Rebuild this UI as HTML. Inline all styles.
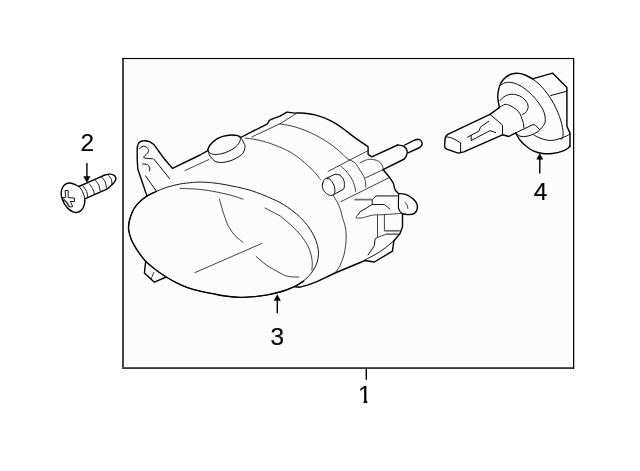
<!DOCTYPE html>
<html>
<head>
<meta charset="utf-8">
<title>Fog Lamp Diagram</title>
<style>
html,body{margin:0;padding:0;background:#fff;}
body{width:640px;height:471px;overflow:hidden;}
svg{display:block;}
text{font-family:"Liberation Sans",Arial,Helvetica,sans-serif;font-size:24.4px;fill:#000;stroke:#000;stroke-width:0.15px;}
svg{opacity:0.999;will-change:transform;}

.k{fill:none;stroke:#000;stroke-width:1.4;stroke-linecap:round;stroke-linejoin:round;}
.kf{fill:#fff;stroke:#000;stroke-width:1.4;stroke-linecap:round;stroke-linejoin:round;}
.m{fill:none;stroke:#000;stroke-width:0.95;stroke-linecap:round;stroke-linejoin:round;}
.mf{fill:#fff;stroke:#000;stroke-width:0.95;stroke-linecap:round;stroke-linejoin:round;}
.t{fill:none;stroke:#111;stroke-width:0.8;stroke-linecap:round;stroke-linejoin:round;}
.t2{fill:none;stroke:#000;stroke-width:0.9;stroke-linecap:round;stroke-linejoin:round;}
.m2{fill:none;stroke:#000;stroke-width:1.15;stroke-linecap:round;stroke-linejoin:round;}
.a{fill:none;stroke:#000;stroke-width:1.4;}
.g{fill:none;stroke:#6e6e6e;stroke-width:1.7;stroke-linecap:butt;}
</style>
</head>
<body>
<svg width="640" height="471" viewBox="0 0 640 471">
<rect x="0" y="0" width="640" height="471" fill="#fff"/>
<!-- frame -->
<rect x="124" y="59" width="449" height="308" fill="#fcfcfc"/>
<rect x="122" y="57" width="452" height="1" fill="#f0f0f0"/>
<rect x="124" y="59" width="449" height="1" fill="#e4e4e4"/>
<rect x="574" y="58" width="1" height="311" fill="#b8b8b8"/>
<rect x="122" y="58" width="2" height="311" fill="#464646"/>
<rect x="122" y="367" width="452" height="1" fill="#585858"/>
<rect x="122" y="368" width="452" height="1" fill="#3a3a3a"/>
<rect x="122" y="58" width="452" height="1" fill="#050505"/>
<rect x="573" y="58" width="1" height="311" fill="#050505"/>
<!-- labels -->
<text x="80.5" y="151">2</text>
<text x="270.5" y="345">3</text>
<text x="533.7" y="199.7">4</text>
<clipPath id="c1"><path d="M350 380H380V400.3H367.3V405H363.6V400.3H350Z"/></clipPath>
<text x="358" y="402.7" clip-path="url(#c1)">1</text>
<!-- leader lines / arrows -->
<path class="a" d="M86.9 163V178"/>
<path d="M86.9 182.8L83.3 176.2H90.5Z" fill="#000"/>
<path class="a" d="M277.3 313.2V299"/>
<path d="M277.3 294.2L273.8 300.8H280.8Z" fill="#000"/>
<path class="a" d="M539.8 173.5V158"/>
<path d="M539.8 153.3L536.3 159.4H543.3Z" fill="#000"/>
<path class="a" d="M366.3 368V379.8"/>
<!-- 10_screw -->
<g>
<path class="k" d="M78.9 186.5L96.0 178.9L100.0 177.1L100.0 177.1C100.8 176.8 103.3 175.5 105.0 175.0C106.7 174.5 108.5 174.0 110.0 174.1C111.5 174.2 113.2 174.7 114.2 175.4C115.2 176.1 115.8 177.4 115.9 178.5C116.0 179.6 115.4 180.7 114.6 181.9C113.8 183.1 112.4 184.5 111.2 185.6C110.1 186.7 108.1 188.2 107.5 188.8L107.5 188.8L96.0 193.8L85.0 198.9"/>
<path class="t2" d="M83.4 186.5C83.9 187.3 85.9 189.7 86.6 191.5C87.3 193.3 87.6 196.3 87.8 197.3"/>
<path class="t2" d="M89.3 184.0C89.8 184.8 91.8 187.0 92.6 188.6C93.4 190.2 93.9 192.8 94.2 193.6"/>
<path class="t2" d="M95.6 180.6C96.1 181.4 98.0 183.5 98.8 185.2C99.5 186.9 99.9 189.7 100.1 190.6"/>
<path class="t2" d="M101.9 177.5C102.5 178.2 104.4 180.2 105.2 182.0C106.0 183.8 106.3 187.1 106.5 188.1"/>
<path class="t2" d="M108.5 175.6C109.0 176.2 110.8 178.0 111.4 179.4C112.0 180.8 111.8 183.0 111.9 183.8"/>
<path class="k" d="M84.8 200.5C84.7 201.2 84.6 203.4 84.3 204.6C84.0 205.8 83.6 206.8 83.0 207.9C82.4 208.9 81.6 210.2 80.6 210.9C79.6 211.7 78.2 212.2 77.0 212.4C75.8 212.6 74.6 212.4 73.2 211.9C71.8 211.3 70.1 210.3 68.7 209.1C67.3 207.9 66.0 206.3 64.9 204.7C63.9 203.1 63.0 201.2 62.4 199.6C61.8 198.0 61.5 196.4 61.3 195.1C61.1 193.8 61.1 192.8 61.3 191.5C61.5 190.2 61.8 188.7 62.5 187.5C63.2 186.3 64.5 184.9 65.6 184.2C66.8 183.4 68.0 183.0 69.4 183.0C70.8 183.0 72.2 183.4 73.8 184.0C75.4 184.6 78.0 186.1 78.9 186.5"/>
<path class="m" d="M78.9 186.5C79.3 187.0 80.8 188.5 81.5 189.7C82.2 190.9 82.9 192.5 83.4 193.8C83.9 195.1 84.4 196.5 84.6 197.6C84.8 198.7 84.8 200.0 84.8 200.5"/>
<path class="t2" d="M65.4 190.5L68.2 190.5L68.2 197.7L74.5 198.0L74.5 201.5L70.3 201.5L72.7 206.7L69.7 206.9L66.5 201.5L63.0 200.3L62.7 197.6L65.4 197.6Z"/>
<path class="t" d="M64.0 199.0L69.0 207.0"/>
</g>
<!-- 30_lamp -->
<g>
<path class="k" d="M146.9 195.9L137.8 169.0L137.2 159.0L137.2 147.2L137.2 147.2C137.6 146.5 138.0 143.7 139.1 142.6C140.2 141.5 142.0 140.9 143.8 140.8C145.5 140.6 147.7 141.0 149.4 141.6C151.0 142.3 153.0 144.1 153.8 144.6L153.8 144.4L164.4 159.0L172.5 168.4L200.0 155.0L207.8 150.6"/>
<path class="m" d="M139.4 148.8C140.0 148.3 141.9 146.5 143.1 146.2C144.4 146.0 146.0 146.8 146.9 147.5C147.8 148.2 148.5 149.6 148.5 150.6C148.5 151.7 147.7 152.7 146.9 153.8C146.1 154.8 144.1 156.1 143.8 156.9C143.4 157.6 143.5 157.8 145.0 158.1C146.5 158.4 151.2 158.6 152.5 158.8"/>
<path class="m" d="M142.5 164.0C143.3 164.1 146.3 164.0 147.5 164.6C148.7 165.2 149.4 166.7 149.8 167.8C150.1 168.8 149.4 170.4 149.4 170.9"/>
<path class="m" d="M145.6 175.9L156.2 190.9"/>
<path class="m" d="M153.8 159.0L169.4 178.4"/>
<path class="t" d="M185.0 170.5L208.8 159.6"/>
<path class="k" d="M207.8 150.0C208.1 149.2 208.6 146.8 210.0 145.0C211.4 143.2 214.0 140.8 216.2 139.4C218.5 137.9 221.2 137.0 223.8 136.2C226.2 135.5 229.0 135.1 231.2 135.0C233.5 134.9 235.9 135.2 237.5 135.6C239.1 136.0 240.1 137.2 240.6 137.5"/>
<path class="m" d="M240.6 137.5C240.4 138.3 240.3 140.8 239.4 142.5C238.4 144.2 236.8 146.0 235.0 147.5C233.2 149.0 231.0 150.2 228.8 151.2C226.5 152.3 223.8 153.2 221.2 153.8C218.8 154.3 215.7 154.6 213.8 154.4C211.8 154.2 210.4 153.2 209.4 152.5C208.4 151.8 208.0 150.4 207.8 150.0"/>
<path class="m" d="M240.6 137.5C241.1 138.3 242.8 140.7 243.5 142.2C244.2 143.8 245.2 145.0 245.0 146.9C244.8 148.8 244.2 151.8 242.5 153.8C240.8 155.7 237.1 157.6 235.0 158.8C232.9 159.9 232.1 160.2 230.0 160.9C227.9 161.5 224.8 162.4 222.5 162.5C220.2 162.6 217.9 162.3 216.2 161.8C214.6 161.2 213.6 160.1 212.5 159.0C211.4 157.9 210.2 156.5 209.4 155.0C208.6 153.5 208.0 150.8 207.8 150.0"/>
<path class="k" d="M240.6 137.5L267.5 123.8L267.5 123.8C267.8 123.2 268.5 121.5 269.4 120.6C270.2 119.8 272.0 119.1 272.5 118.8L272.5 118.8L280.0 116.2L286.9 112.1L295.0 113.1L295.0 113.1C295.8 113.1 298.3 113.0 300.0 113.0C301.7 113.0 302.5 112.9 305.0 113.2C307.5 113.6 311.7 114.1 315.0 114.9C318.3 115.7 321.7 116.8 325.0 118.1C328.3 119.5 331.7 121.1 335.0 123.1C338.3 125.1 341.9 127.7 345.0 130.0C348.1 132.3 351.2 135.0 353.8 136.9C356.2 138.8 357.6 139.6 360.0 141.2C362.4 142.9 366.8 145.9 368.1 146.9L368.1 146.9L368.1 154.4L371.9 156.9L397.5 145.0"/>
<path class="t" d="M251.9 136.9L280.0 123.8L295.6 114.0"/>
<path class="t" d="M280.0 124.0C281.7 124.3 286.7 124.9 290.0 125.6C293.3 126.4 296.7 127.4 300.0 128.5C303.3 129.6 306.7 131.0 310.0 132.5C313.3 134.0 316.7 135.6 320.0 137.5C323.3 139.4 326.9 141.6 330.0 143.8C333.1 145.9 335.8 148.1 338.8 150.6C341.7 153.1 344.8 156.7 347.5 158.8C350.2 160.8 352.9 160.8 355.0 162.8C357.1 164.7 358.5 168.0 360.0 170.2C361.5 172.5 362.8 174.4 363.8 176.5C364.7 178.6 365.3 181.0 365.6 182.8C365.9 184.5 365.6 186.4 365.6 187.1"/>
<path class="t" d="M341.2 166.5C342.3 167.5 345.6 170.5 347.5 172.8C349.4 175.0 351.2 177.8 352.5 180.2C353.8 182.8 354.5 185.9 355.0 187.8C355.5 189.6 355.5 190.9 355.6 191.5"/>
<path class="t" d="M245.0 138.1C246.7 138.3 251.2 138.6 255.0 139.4C258.8 140.1 263.3 141.2 267.5 142.5C271.7 143.8 276.7 145.9 280.0 147.2C283.3 148.6 285.2 149.4 287.5 150.6C289.8 151.8 291.7 153.0 293.8 154.4C295.8 155.7 297.5 156.7 300.0 158.8C302.5 160.8 306.0 164.0 308.8 166.5C311.5 169.0 314.3 171.9 316.2 174.0C318.2 176.1 319.6 178.4 320.2 179.2"/>
<path class="t" d="M328.1 171.5L349.4 160.2L368.1 150.6"/>
<path class="k" d="M397.5 145.0C398.5 145.2 402.1 145.2 403.8 146.2C405.4 147.3 406.8 149.6 407.2 151.2C407.7 152.9 406.7 155.0 406.2 156.2C405.8 157.5 404.7 158.3 404.4 158.8L404.4 159.0L383.1 169.6"/>
<path class="k" d="M404.8 145.0L415.0 139.8L415.0 140.0C415.5 139.9 416.8 139.2 417.8 139.2C418.7 139.3 419.9 139.6 420.6 140.2C421.4 140.9 422.0 142.2 422.1 143.1C422.3 144.0 421.9 144.9 421.5 145.6C421.1 146.4 420.0 147.2 419.8 147.5L419.8 147.5L408.1 152.8"/>
<path class="t" d="M360.0 162.8C361.2 162.2 365.2 160.1 367.5 159.6C369.8 159.1 371.9 159.3 373.8 159.6C375.6 159.9 377.3 160.6 378.8 161.5C380.2 162.4 381.5 163.9 382.2 165.2C383.0 166.6 383.0 168.9 383.1 169.6"/>
<path class="t" d="M365.6 177.8L382.5 170.0"/>
<path class="t" d="M341.2 201.5L389.4 177.5"/>
<path class="m" d="M322.5 184.0C322.8 182.8 323.4 180.6 324.4 179.6C325.3 178.7 326.9 178.1 328.1 178.4C329.4 178.7 330.8 180.1 331.9 181.5C332.9 182.9 333.9 184.7 334.4 186.5C334.9 188.3 335.1 190.7 334.8 192.1C334.4 193.6 333.5 194.8 332.5 195.2C331.5 195.7 330.1 195.6 328.8 195.0C327.4 194.4 325.4 192.8 324.4 191.5C323.3 190.2 322.8 188.4 322.5 187.1C322.2 185.9 322.2 185.2 322.5 184.0Z"/>
<path class="m" d="M326.2 178.4L335.0 174.2L335.0 174.2C335.8 174.4 338.5 174.2 340.0 175.2C341.5 176.2 343.0 178.5 343.8 180.2C344.5 182.0 344.4 184.4 344.4 185.9C344.4 187.3 343.9 188.5 343.8 189.0L343.8 189.0L333.8 194.6"/>
<path class="t" d="M333.1 195.2C333.9 196.5 336.2 200.2 337.5 202.8C338.8 205.2 339.8 207.8 340.6 210.2C341.5 212.8 341.8 215.2 342.5 217.8C343.2 220.3 344.4 222.5 345.0 225.5C345.6 228.5 346.1 232.2 346.2 235.5C346.4 238.8 346.0 242.2 345.6 245.5C345.2 248.8 344.7 252.2 343.8 255.5C342.8 258.8 341.5 262.6 340.0 265.5C338.5 268.4 335.8 271.8 335.0 273.0"/>
<path class="k" d="M383.1 169.6C384.1 170.8 387.1 174.3 388.8 176.5C390.4 178.7 392.1 180.7 393.1 182.8C394.1 184.8 394.0 187.4 394.8 189.0C395.5 190.6 396.8 191.8 397.5 192.5C398.2 193.2 397.3 193.0 398.8 193.4C400.2 193.7 404.0 193.8 406.2 194.6C408.5 195.5 410.7 196.8 412.5 198.4C414.3 199.9 416.1 202.2 416.9 204.0C417.7 205.8 417.7 207.4 417.2 209.0C416.8 210.6 415.8 212.4 414.4 213.4C413.0 214.3 410.7 214.6 408.8 214.6C406.8 214.7 403.5 213.9 402.5 213.8"/>
<path class="m2" d="M398.8 193.4C398.7 194.5 398.5 197.9 398.5 200.2C398.5 202.6 398.2 205.9 398.5 207.8C398.8 209.6 399.5 210.5 400.1 211.5C400.8 212.5 402.1 213.6 402.5 214.0"/>
<path class="k" d="M402.5 214.0L402.5 218.0L402.5 226.8L400.0 233.6L393.8 241.1L392.5 251.1L374.4 262.0L365.0 260.5L335.0 273.0L317.5 281.4L307.5 285.1L300.0 287.2L295.0 286.8"/>
<path class="t" d="M405.0 202.1C405.4 202.6 406.8 204.2 407.2 205.2C407.7 206.3 407.7 207.9 407.8 208.4"/>

<path class="g" d="M376.2 195.9L398.1 195.9"/>
<path class="g" d="M354.4 199.6L371.9 199.6"/>
<path class="t2" d="M376.2 195.9L372.2 199.6L372.2 204.5L384.4 204.5L390.0 209.2"/>
<path class="t2" d="M372.2 204.5L360.0 211.8L358.1 214.8"/>
<path class="t" d="M358.1 214.6C357.8 215.0 356.5 216.2 356.2 216.8C356.0 217.3 355.5 217.8 356.5 218.0C357.5 218.2 359.8 218.2 362.5 217.8C365.2 217.3 368.8 215.8 372.5 215.2C376.2 214.7 380.2 214.9 385.0 214.6C389.8 214.3 398.5 213.6 401.2 213.4"/>
<path class="t" d="M377.5 215.5L377.5 237.4L386.2 234.2"/>
<path class="t" d="M384.4 215.0L384.4 230.5"/>
<path class="g" d="M384.4 230.8L399.8 230.8"/>
<path class="g" d="M386.2 234.2L399.0 234.2"/>
<path class="m" d="M377.5 237.4L375.0 239.2L374.4 245.5L368.1 254.9"/>
<path class="m" d="M400.0 233.6C398.5 235.2 394.8 239.9 391.2 243.0C387.7 246.1 383.1 249.6 378.8 252.4C374.4 255.2 367.3 258.6 365.0 259.9"/>
<path class="t2" d="M146.9 196.2C149.6 194.6 152.8 193.0 156.2 191.5C159.7 190.0 163.5 188.4 167.5 187.1C171.5 185.9 175.8 184.8 180.0 184.0C184.2 183.2 189.2 182.8 192.5 182.5C195.8 182.2 196.7 182.1 200.0 182.1C203.3 182.2 208.3 182.3 212.5 182.8C216.7 183.2 220.8 183.9 225.0 184.6C229.2 185.4 233.3 186.2 237.5 187.1C241.7 188.1 245.8 189.0 250.0 190.2C254.2 191.5 258.8 193.2 262.5 194.6C266.2 196.1 269.6 197.7 272.5 199.0C275.4 200.3 277.5 201.1 280.0 202.5C282.5 203.9 285.0 205.4 287.5 207.1C290.0 208.8 292.8 211.0 295.0 212.8C297.2 214.5 298.5 215.6 300.6 217.8C302.7 219.9 305.3 222.5 307.5 225.5C309.7 228.5 312.1 232.2 313.8 235.5C315.4 238.8 316.7 242.4 317.5 245.5C318.3 248.6 318.6 251.3 318.5 254.2C318.4 257.2 317.8 260.3 316.9 263.0C316.0 265.7 314.6 268.2 313.1 270.5C311.7 272.8 310.1 274.7 308.1 276.8C306.1 278.8 303.4 281.0 301.2 282.6C299.1 284.2 297.3 285.2 295.0 286.4C292.7 287.5 290.0 288.6 287.5 289.5C285.0 290.4 283.3 291.1 280.0 292.0C276.7 292.9 271.7 294.1 267.5 294.9C263.3 295.6 259.6 296.2 255.0 296.6C250.4 297.0 245.0 297.5 240.0 297.4C235.0 297.3 229.6 296.6 225.0 296.0C220.4 295.4 216.7 294.4 212.5 293.6C208.3 292.8 204.2 292.1 200.0 291.1C195.8 290.1 191.5 289.0 187.5 287.6C183.5 286.2 179.8 284.4 176.2 282.6C172.7 280.9 169.8 279.2 166.2 277.0C162.7 274.8 158.5 272.0 155.0 269.2C151.5 266.5 148.1 263.9 145.0 260.5C141.9 257.1 138.5 252.2 136.2 248.6C134.0 245.1 132.5 242.3 131.2 239.2C130.0 236.2 129.2 233.0 128.8 230.5C128.3 228.0 128.5 226.4 128.8 224.2C129.0 222.1 129.4 220.3 130.2 217.8C131.1 215.2 132.1 211.7 133.8 209.0C135.4 206.3 137.8 203.6 140.0 201.5C142.2 199.4 144.2 197.9 146.9 196.2Z"/>
<path class="k" d="M303.8 281.0C303.3 281.3 302.7 281.7 301.2 282.6C299.8 283.5 297.3 285.2 295.0 286.4C292.7 287.5 290.0 288.6 287.5 289.5C285.0 290.4 283.3 291.1 280.0 292.0C276.7 292.9 271.7 294.1 267.5 294.9C263.3 295.6 259.6 296.2 255.0 296.6C250.4 297.0 245.0 297.5 240.0 297.4C235.0 297.3 229.6 296.6 225.0 296.0C220.4 295.4 216.7 294.4 212.5 293.6C208.3 292.8 204.2 292.1 200.0 291.1C195.8 290.1 191.5 289.0 187.5 287.6C183.5 286.2 179.8 284.4 176.2 282.6C172.7 280.9 169.8 279.2 166.2 277.0C162.7 274.8 158.5 272.0 155.0 269.2C151.5 266.5 148.1 263.9 145.0 260.5C141.9 257.1 138.5 252.2 136.2 248.6C134.0 245.1 132.5 242.3 131.2 239.2C130.0 236.2 129.2 233.0 128.8 230.5C128.3 228.0 128.5 226.4 128.8 224.2C129.0 222.1 129.4 220.3 130.2 217.8C131.1 215.2 132.1 211.7 133.8 209.0C135.4 206.3 137.8 203.6 140.0 201.5C142.2 199.4 144.2 197.9 146.9 196.2C149.6 194.6 154.7 192.3 156.2 191.5"/>
<path class="t" d="M180.0 188.4C181.7 188.4 186.7 188.6 190.0 188.8C193.3 188.9 196.2 189.0 200.0 189.4C203.8 189.8 208.3 190.5 212.5 191.2C216.7 192.0 221.2 192.9 225.0 193.8C228.8 194.6 232.0 195.6 235.0 196.5C238.0 197.4 241.8 198.8 243.1 199.2"/>
<path class="t" d="M219.4 199.2C220.3 202.3 223.4 213.2 225.0 217.8C226.6 222.3 227.1 223.8 228.8 226.8C230.4 229.7 232.6 232.9 235.0 235.5C237.4 238.1 241.8 241.2 243.1 242.4"/>
<path class="t" d="M195.0 272.6L261.9 243.4"/>
<path class="t" d="M256.2 256.5C257.9 257.9 262.3 262.1 266.2 264.9C270.2 267.6 276.6 271.1 280.0 273.0C283.4 274.9 284.8 275.5 286.9 276.1C289.0 276.8 290.5 276.7 292.5 276.9C294.5 277.0 297.7 277.0 298.8 277.0"/>
<path class="t" d="M265.0 208.0C267.5 209.3 277.1 214.2 280.0 215.9C282.9 217.5 280.8 216.6 282.5 218.0C284.2 219.4 287.3 221.8 290.0 224.2C292.7 226.8 296.0 229.9 298.8 233.0C301.5 236.1 304.3 239.7 306.2 243.0C308.2 246.3 309.6 249.9 310.6 253.0C311.6 256.1 312.0 258.8 312.2 261.8C312.5 264.7 311.9 269.0 311.9 270.5"/>
<path class="k" d="M145.6 261.8L144.4 273.0L154.4 282.2L166.2 277.0"/>
<path class="t" d="M153.8 272.4L151.2 278.9"/>
</g>
<!-- 40_bulb -->
<g>
<path class="k" d="M532.5 78.8L552.5 73.1L566.9 87.5L566.9 126.2L570.0 133.1L570.0 146.2"/>
<path class="m" d="M566.9 91.2L550.6 95.6"/>
<path class="k" d="M515.6 133.1C516.4 134.3 518.2 137.8 520.0 140.0C521.8 142.2 524.0 144.4 526.2 146.2C528.5 148.1 531.0 150.0 533.8 151.2C536.5 152.5 539.4 153.1 542.5 153.5C545.6 153.9 549.2 153.9 552.5 153.5C555.8 153.1 559.9 152.1 562.5 151.2C565.1 150.4 566.9 149.0 568.1 148.1C569.4 147.3 569.7 146.6 570.0 146.2"/>
<path class="m" d="M570.0 133.8C569.4 134.2 567.9 135.5 566.2 136.2C564.6 137.0 562.1 137.8 560.0 138.5C557.9 139.2 555.8 140.0 553.8 140.2C551.7 140.5 549.8 140.6 547.5 140.2C545.2 139.9 542.3 139.0 540.0 138.1C537.7 137.2 534.8 135.5 533.8 135.0"/>
<path class="k" d="M499.4 107.5C499.1 105.8 497.9 100.6 497.8 97.5C497.6 94.4 498.2 91.2 498.8 88.8C499.3 86.2 500.0 84.5 501.2 82.5C502.5 80.5 504.4 78.3 506.2 76.9C508.1 75.4 510.4 74.3 512.5 73.8C514.6 73.2 516.7 73.2 518.8 73.4C520.8 73.6 522.7 74.1 525.0 75.0C527.3 75.9 531.2 78.1 532.5 78.8"/>
<path class="m" d="M532.5 78.8C533.8 79.8 537.5 82.5 540.0 85.0C542.5 87.5 545.2 90.6 547.5 93.8C549.8 96.9 552.0 100.6 553.8 103.8C555.5 106.9 556.7 109.8 557.9 112.5C559.0 115.2 559.9 117.5 560.6 120.0C561.4 122.5 562.1 125.2 562.5 127.5C562.9 129.8 563.2 131.9 563.1 133.8C563.1 135.6 562.8 138.0 562.2 138.8C561.7 139.5 560.4 138.5 560.0 138.5"/>
<path class="m" d="M500.0 85.6C500.8 85.1 503.1 83.3 505.0 82.8C506.9 82.2 509.2 82.2 511.2 82.5C513.3 82.8 515.2 83.3 517.5 84.4C519.8 85.4 522.5 86.9 525.0 88.8C527.5 90.6 530.2 93.2 532.5 95.6C534.8 98.0 537.0 100.7 538.8 103.1C540.5 105.5 542.1 107.8 543.1 110.0C544.2 112.2 544.7 114.2 545.0 116.2C545.3 118.3 545.5 120.6 545.0 122.5C544.5 124.4 543.1 125.9 541.9 127.5C540.6 129.1 539.3 130.6 537.5 131.9C535.7 133.1 533.3 134.2 531.2 135.0C529.2 135.8 526.9 136.3 525.0 136.5C523.1 136.7 520.8 136.3 520.0 136.2"/>
<path class="m" d="M500.0 100.6C500.6 100.0 502.1 97.9 503.8 96.9C505.4 95.8 507.9 94.7 510.0 94.4C512.1 94.0 514.2 94.2 516.2 94.8C518.3 95.3 520.7 96.2 522.5 97.5C524.3 98.8 525.9 100.8 526.9 102.5C527.8 104.2 528.3 105.8 528.1 107.5C527.9 109.2 526.6 111.4 525.6 112.5C524.7 113.6 523.0 114.1 522.5 114.4"/>
<path class="m" d="M499.4 107.5C500.3 107.0 503.2 104.7 505.0 104.4C506.8 104.1 508.1 104.8 510.0 105.6C511.9 106.5 514.6 108.0 516.2 109.4C517.9 110.7 519.1 112.2 520.0 113.8C520.9 115.3 521.3 117.1 521.9 118.8C522.5 120.4 523.2 122.3 523.5 123.8C523.8 125.2 523.7 126.9 523.8 127.5"/>
<path class="m" d="M515.6 132.9L532.5 124.8L535.0 124.8L539.4 129.4"/>
<path class="m" d="M520.0 136.2C519.7 136.0 518.8 135.5 518.1 135.0C517.5 134.5 516.6 133.4 516.2 133.1"/>
<path class="k" d="M499.4 107.5L490.0 114.4L448.8 133.8L448.8 133.8C448.2 134.3 446.3 135.4 445.6 136.9C445.0 138.3 444.9 140.7 444.8 142.5C444.6 144.3 444.5 146.4 445.0 147.5C445.5 148.6 447.1 149.1 447.5 149.4L447.5 149.4L458.1 153.1L463.8 151.9L502.5 134.8L508.8 136.5L515.6 132.9"/>
<path class="m" d="M490.0 114.4L502.5 125.0L502.5 134.8"/>
<path class="m" d="M445.6 136.9C446.6 137.0 449.4 137.1 451.2 137.8C453.1 138.4 455.3 139.7 456.9 140.6C458.4 141.5 460.0 142.7 460.6 143.1"/>
<path class="m" d="M460.6 143.1L460.6 152.5"/>
<path class="m" d="M467.5 137.2L478.8 131.2L480.6 126.9L488.8 121.2"/>
<path class="m" d="M471.2 135.6L471.2 140.6L487.5 131.9L490.0 130.6L495.6 132.5"/>
</g>

</svg>
</body>
</html>
